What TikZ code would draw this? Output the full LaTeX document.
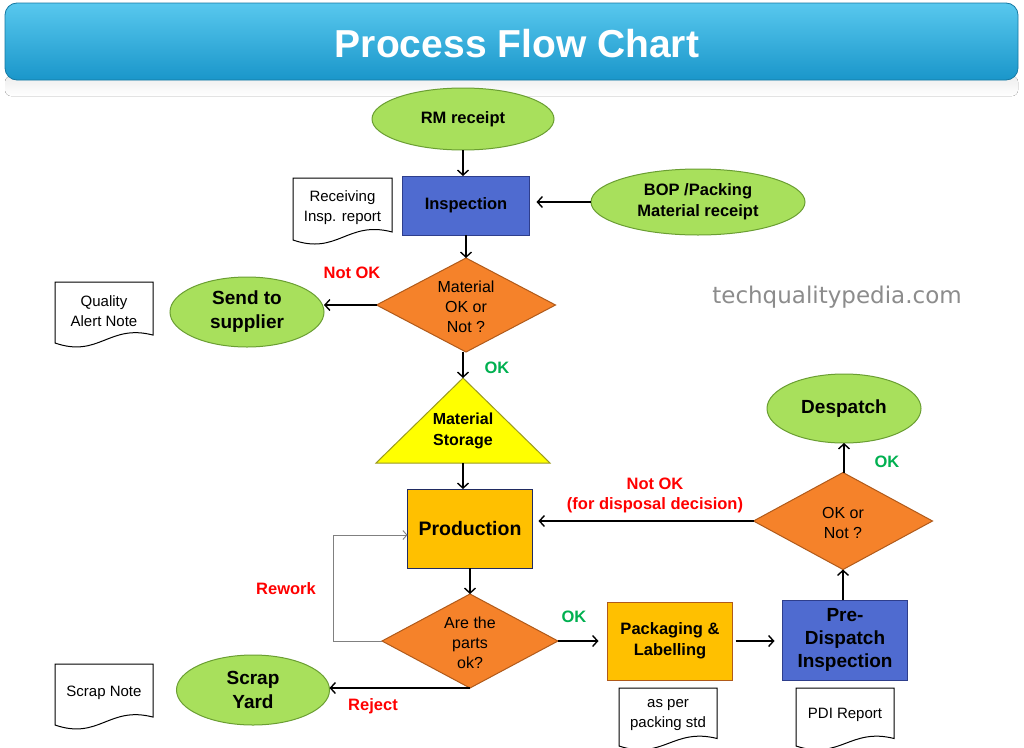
\documentclass[tikz,border=0pt]{standalone}
\usepackage{fontspec}
\setmainfont{Liberation Sans}
\newfontfamily\wmfont{DejaVu Sans}
\usetikzlibrary{shapes.geometric,arrows.meta,calc}
\definecolor{grnF}{HTML}{A8E05C}
\definecolor{grnB}{HTML}{6A9E32}
\definecolor{bluF}{HTML}{4F6BD0}
\definecolor{bluB}{HTML}{2E3E8C}
\definecolor{ylwF}{HTML}{FFC000}
\definecolor{orgF}{HTML}{F5822A}
\definecolor{orgB}{HTML}{B05A1A}
\definecolor{triF}{HTML}{FFFF00}
\definecolor{triB}{HTML}{9A9A20}
\definecolor{ttlT}{HTML}{58C8EE}
\definecolor{ttlB}{HTML}{1A96CA}
\definecolor{redL}{HTML}{FF0000}
\definecolor{grnL}{HTML}{00B050}
\definecolor{wmgray}{HTML}{8C8C8C}
\tikzset{
  every node/.style={inner sep=0pt, outer sep=0pt},
  greenell/.style={ellipse, draw=grnB, fill=grnF, line width=1pt, align=center},
  bluebox/.style={rectangle, draw=bluB, fill=bluF, line width=1pt, align=center},
  ylwbox/.style={rectangle, draw=#1, fill=ylwF, line width=1pt, align=center},
  diabox/.style={diamond, draw=orgB, fill=orgF, line width=1pt},
  diatext/.style={align=center, font=\fontsize{16}{20}\selectfont, yshift=-1.5pt},
  bfA/.style={font=\fontsize{16.5}{21}\selectfont\bfseries},
  bfB/.style={font=\fontsize{19.5}{23.5}\selectfont\bfseries},
  doctxt/.style={align=center, font=\fontsize{15}{20}\selectfont},
  docline/.style={draw=black, fill=white, line width=1pt},
  redlab/.style={text=redL, align=center, font=\fontsize{16.5}{20}\selectfont\bfseries},
  grnlab/.style={text=grnL, font=\fontsize{16.5}{20}\selectfont\bfseries},
  conn/.style={draw=black, line width=1.4pt, -{Straight Barb[length=5pt,width=11pt]}},
  rework/.style={draw=gray, line width=0.9pt, -{Straight Barb[length=4pt,width=9pt]}},
}
\newcommand\mydoc[6]{%
  \draw[docline] (#2,-#4) -- (#3,-#4) -- (#3,{-(#4+0.87*#5)})
    .. controls ({#3-0.45*(#3-#2)},{-(#4+0.68*#5)}) and ({#2+0.45*(#3-#2)},{-(#4+1.25*#5)}) ..
    (#2,{-(#4+#5)}) -- cycle;
  \node[doctxt] (#1) at ({(#2+#3)/2},{-(#4+0.47*#5)}) {#6};
}
\begin{document}
\begin{tikzpicture}[x=1pt,y=1pt]
\path[use as bounding box, fill=white] (0,0) rectangle (1024,-747);

% title bar with soft reflection
\fill[top color=gray!14, bottom color=white, rounded corners=6pt] (5,-76) rectangle (1018,-96);
\shade[top color=ttlT, bottom color=ttlB, draw=ttlB!80!black, line width=0.8pt, rounded corners=12pt]
  (5,-3) rectangle (1018,-80);
\node[text=white, font=\fontsize{39}{44}\selectfont\bfseries] (title) at (517,-44) {Process Flow Chart};

% watermark
\node[text=wmgray, font=\wmfont\fontsize{23}{26}\selectfont] (wm) at (837,-297) {techqualitypedia.com};

% nodes
\node[greenell, bfA, minimum width=182, minimum height=62] (rm) at (463,-119) {RM receipt};
\node[bluebox, bfA, minimum width=127, minimum height=59] (insp) at (466,-205.5) {Inspection};
\node[greenell, bfA, minimum width=214, minimum height=66] (bop) at (698,-202) {BOP /Packing\\Material receipt};
\node[diabox, minimum width=179, minimum height=94, label={[diatext]center:Material\\OK or\\Not ?}] (d1) at (466,-305) {};
\node[greenell, font=\fontsize{19}{24}\selectfont\bfseries, minimum width=154, minimum height=70] (sup) at (247,-312) {Send to\\supplier};

% material storage triangle
\coordinate (stTop) at (463,-378);
\coordinate (stBot) at (463,-463);
\draw[draw=triB, fill=triF, line width=1pt] (stTop) -- (550,-463) -- (376,-463) -- cycle;
\node[font=\fontsize{16}{21}\selectfont\bfseries, align=center] (stor) at (463,-431) {Material\\Storage};

\node[ylwbox=bluB!70!black, bfB, minimum width=125, minimum height=79] (prod) at (470,-528.5) {Production};
\node[diabox, minimum width=176, minimum height=94, label={[diatext]center:Are the\\parts\\ok?}] (d2) at (470,-641) {};
\node[greenell, font=\fontsize{19}{24}\selectfont\bfseries, minimum width=153, minimum height=70] (scrap) at (253,-690) {Scrap\\Yard};
\node[ylwbox=orgB, bfA, minimum width=125, minimum height=78] (pack) at (670,-641) {Packaging \&\\Labelling};
\node[bluebox, font=\fontsize{19}{23}\selectfont\bfseries, minimum width=125, minimum height=80] (pdi) at (845,-640) {Pre-\\Dispatch\\Inspection};
\node[diabox, minimum width=179, minimum height=97, label={[diatext]center:OK or\\Not ?}] (d3) at (843,-521) {};
\node[greenell, font=\fontsize{19}{24}\selectfont\bfseries, minimum width=154, minimum height=69] (desp) at (844,-408.5) {Despatch};

% documents
\mydoc{doc1}{293}{392}{178}{62}{Receiving\\Insp. report}
\mydoc{doc2}{55}{153}{282}{61}{Quality\\Alert Note}
\mydoc{doc3}{55}{153}{664}{61}{Scrap Note}
\mydoc{doc4}{619}{717}{688}{58}{as per\\packing std}
\mydoc{doc5}{796}{894}{688}{58}{PDI Report}

% connectors
\draw[conn] (rm.south) -- (insp.north -| rm.south);
\draw[conn, shorten >=7pt] (bop.west) -- (bop.west -| insp.east);
\draw[conn] (insp.south -| d1.north) -- (d1.north);
\draw[conn] (d1.west) -- (d1.west -| sup.east);
\draw[conn] (d1.south -| stTop) -- (stTop);
\draw[conn] (stBot) -- (stBot |- prod.north);
\draw[conn] (prod.south) -- (d2.north);
\draw[conn, shorten >=9pt] (d2.east) -- (d2.east -| pack.west);
\draw[conn, shorten <=3pt, shorten >=8pt] (pack.east) -- (pack.east -| pdi.west);
\draw[conn] (pdi.north -| d3.south) -- (d3.south);
\draw[conn, shorten >=6pt] (d3.west) -- (d3.west -| prod.east);
\draw[conn] (d3.north) -- (d3.north -| desp.south) -- (desp.south);
\draw[conn] (d2.south) -- (d2.south -| scrap.east);
\coordinate (rw) at (333,-535);
\draw[rework] (d2.west) -| (rw) -- (rw -| prod.west);

% labels
\node[redlab] (lnok1) at (352,-273) {Not OK};
\node[grnlab] (lok1) at (497,-368) {OK};
\node[redlab] (lrw) at (286,-589) {Rework};
\node[redlab] (lrej) at (373,-706) {Reject};
\node[grnlab] (lok2) at (574,-617) {OK};
\node[redlab] (lnok2) at (655,-495) {Not OK\\(for disposal decision)};
\node[grnlab] (lok3) at (887,-462) {OK};
\end{tikzpicture}
\end{document}
